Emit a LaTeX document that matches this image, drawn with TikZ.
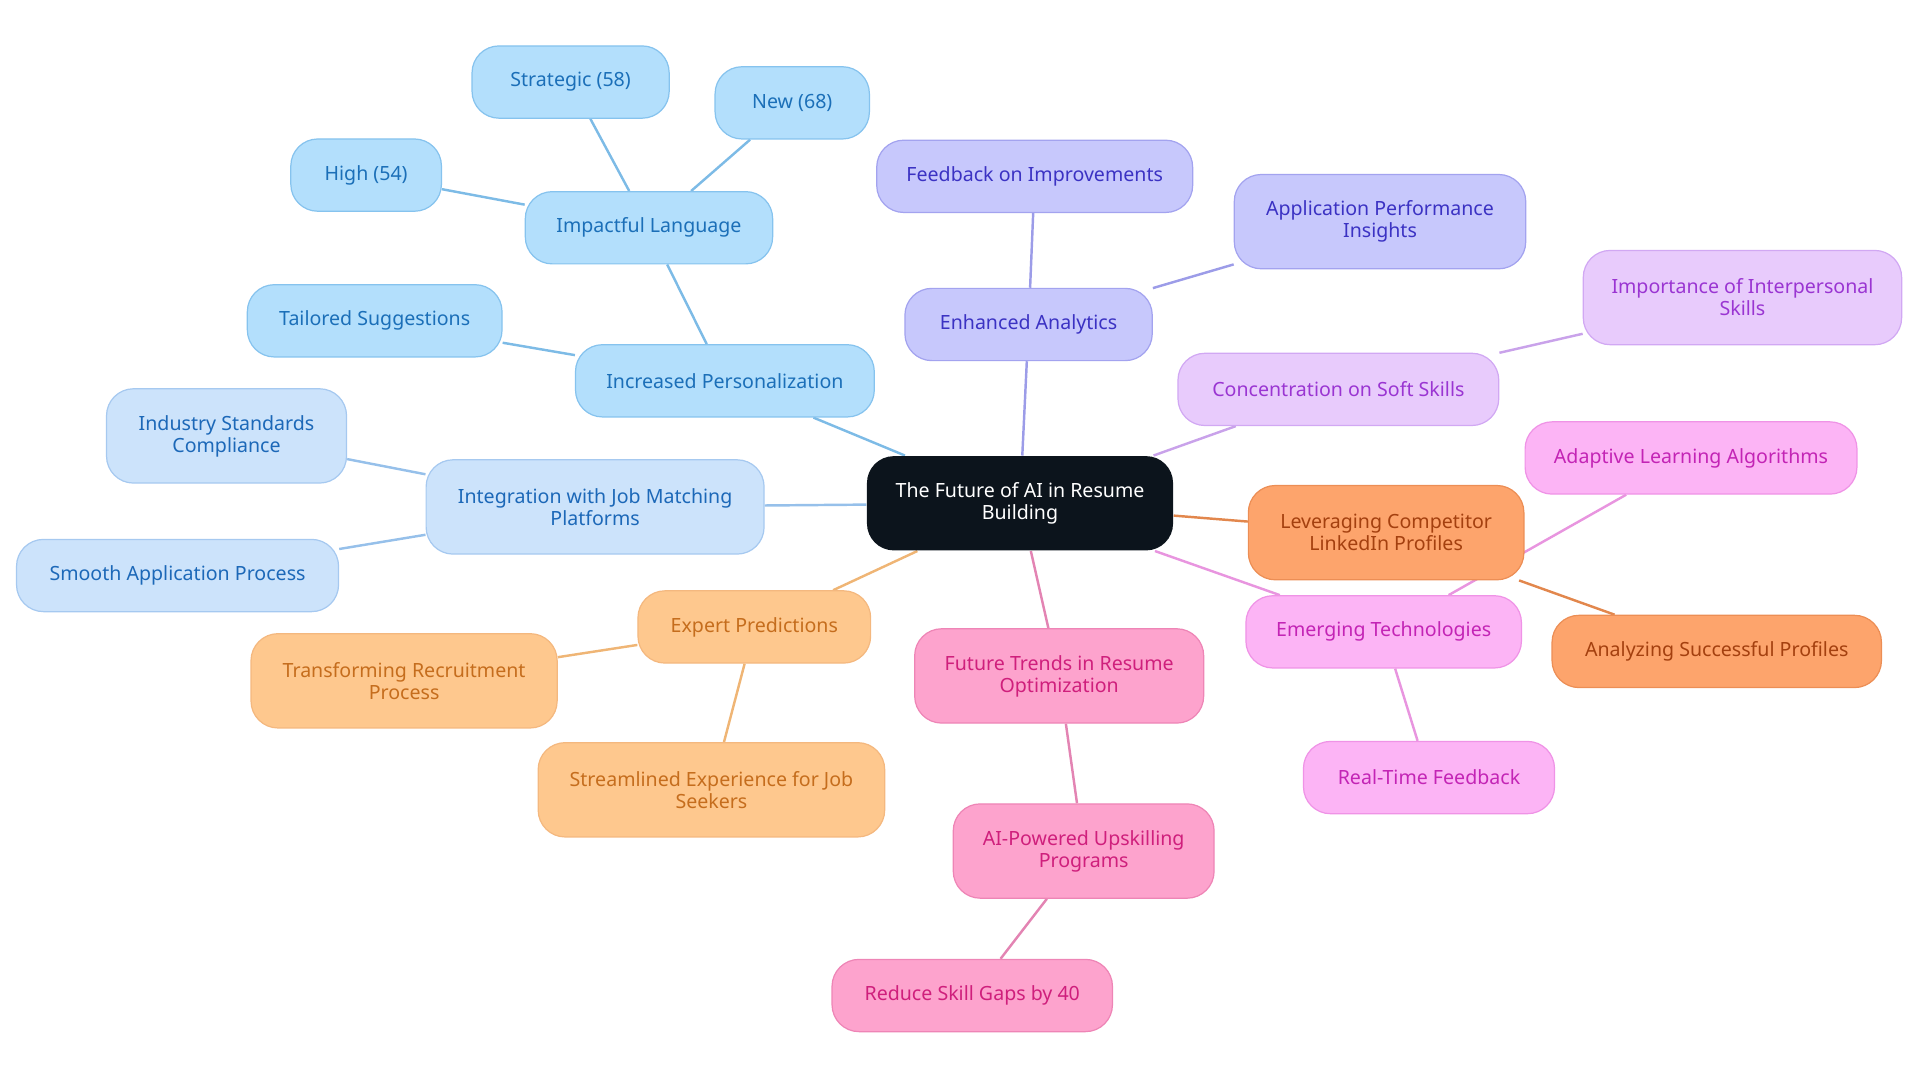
\documentclass[tikz,border=0pt]{standalone}
\usepackage{fontspec}
\setmainfont{Noto Sans}
\usetikzlibrary{positioning}
\definecolor{blueF}{HTML}{B3DFFC}\definecolor{blueD}{HTML}{86C3EE}\definecolor{blueT}{HTML}{1B6FB8}\definecolor{blueL}{HTML}{7DBBE6}
\definecolor{skyF}{HTML}{CCE3FB}\definecolor{skyD}{HTML}{A6C9F0}\definecolor{skyT}{HTML}{1C68B8}\definecolor{skyL}{HTML}{96C0EA}
\definecolor{indF}{HTML}{C7C8FC}\definecolor{indD}{HTML}{A3A3EF}\definecolor{indT}{HTML}{3B32C3}\definecolor{indL}{HTML}{9C9CE8}
\definecolor{lavF}{HTML}{E8CBFC}\definecolor{lavD}{HTML}{D1A8F3}\definecolor{lavT}{HTML}{9A35D2}\definecolor{lavL}{HTML}{C9A2EA}
\definecolor{magF}{HTML}{FCB4F5}\definecolor{magD}{HTML}{EF93E6}\definecolor{magT}{HTML}{C324B5}\definecolor{magL}{HTML}{E895DF}
\definecolor{oraF}{HTML}{FDA46C}\definecolor{oraD}{HTML}{EC8E55}\definecolor{oraT}{HTML}{A4400F}\definecolor{oraL}{HTML}{E2874D}
\definecolor{apeF}{HTML}{FEC88E}\definecolor{apeD}{HTML}{F4B87F}\definecolor{apeT}{HTML}{C56D1D}\definecolor{apeL}{HTML}{EFB575}
\definecolor{pinF}{HTML}{FDA3CD}\definecolor{pinD}{HTML}{EE85B6}\definecolor{pinT}{HTML}{CF1F7C}\definecolor{pinL}{HTML}{E384B3}
\definecolor{rootF}{HTML}{0C141C}
\pgfdeclarelayer{bg}
\pgfsetlayers{bg,main}
\tikzset{mind/.style={rectangle, rounded corners=22pt, line width=1pt, align=center, inner sep=0pt, minimum height=59pt, font=\fontsize{16}{18}\selectfont}}
\tikzset{two/.style={minimum height=77pt}}
\tikzset{bluebox/.style={mind, fill=blueF, draw=blueD, text=blueT}}
\tikzset{skybox/.style={mind, fill=skyF, draw=skyD, text=skyT}}
\tikzset{indbox/.style={mind, fill=indF, draw=indD, text=indT}}
\tikzset{lavbox/.style={mind, fill=lavF, draw=lavD, text=lavT}}
\tikzset{magbox/.style={mind, fill=magF, draw=magD, text=magT}}
\tikzset{orabox/.style={mind, fill=oraF, draw=oraD, text=oraT}}
\tikzset{apebox/.style={mind, fill=apeF, draw=apeD, text=apeT}}
\tikzset{pinbox/.style={mind, fill=pinF, draw=pinD, text=pinT}}
\tikzset{link/.style={line width=2pt}}

\begin{document}
\begin{tikzpicture}[x=1pt, y=-1pt]
	\useasboundingbox (0,0) rectangle (1568,884.5);

	% Root
	\node[mind, two, fill=rootF, text=white, minimum width=250pt] (root) at (833,411) {The Future of AI in Resume\\Building};

	% Personalization Branch
	\node[bluebox, minimum width=244pt] (pers) at (592,311) {Increased Personalization};
	\node[bluebox, minimum width=208pt] (tail) at (306,262) {Tailored Suggestions};
	\node[bluebox, minimum width=202pt] (lang) at (530,186) {Impactful Language};
	\node[bluebox, minimum width=161pt] (strat) at (466,67) {Strategic (58)};
	\node[bluebox, minimum width=126pt] (new) at (647,84) {New (68)};
	\node[bluebox, minimum width=123pt] (high) at (299,143) {High (54)};

	% Integration Branch
	\node[skybox, two, minimum width=276pt] (integ) at (486,414) {Integration with Job Matching\\Platforms};
	\node[skybox, two, minimum width=196pt] (indus) at (185,356) {Industry Standards\\Compliance};
	\node[skybox, minimum width=263pt] (smooth) at (145,470) {Smooth Application Process};

	% Analytics Branch
	\node[indbox, minimum width=202pt] (analy) at (840,265) {Enhanced Analytics};
	\node[indbox, minimum width=258pt] (feed) at (845,144) {Feedback on Improvements};
	\node[indbox, two, minimum width=238pt] (perf) at (1127,181) {Application Performance\\Insights};

	% Soft Skills Branch
	\node[lavbox, minimum width=262pt] (soft) at (1093,318) {Concentration on Soft Skills};
	\node[lavbox, two, minimum width=260pt] (inter) at (1423,243) {Importance of Interpersonal\\Skills};

	% Technologies Branch
	\node[magbox, minimum width=225pt] (emerg) at (1130,516) {Emerging Technologies};
	\node[magbox, minimum width=271pt] (adapt) at (1381,374) {Adaptive Learning Algorithms};
	\node[magbox, minimum width=205pt] (rtfb) at (1167,635) {Real-Time Feedback};

	% Competitor Branch
	\node[orabox, two, minimum width=225pt] (lever) at (1132,435) {Leveraging Competitor\\LinkedIn Profiles};
	\node[orabox, minimum width=269pt] (succ) at (1402,532) {Analyzing Successful Profiles};

	% Predictions Branch
	\node[apebox, minimum width=190pt] (expert) at (616,512) {Expert Predictions};
	\node[apebox, two, minimum width=250pt] (transf) at (330,556) {Transforming Recruitment\\Process};
	\node[apebox, two, minimum width=283pt] (stream) at (581,645) {Streamlined Experience for Job\\Seekers};

	% Trends Branch
	\node[pinbox, two, minimum width=236pt] (trends) at (865,552) {Future Trends in Resume\\Optimization};
	\node[pinbox, two, minimum width=213pt] (upsk) at (885,695) {AI-Powered Upskilling\\Programs};
	\node[pinbox, minimum width=229pt] (gaps) at (794,813) {Reduce Skill Gaps by 40};

	% Connectors
	\begin{pgfonlayer}{bg}
		\foreach \a/\b in {root/pers, pers/tail, pers/lang, lang/strat, lang/new, lang/high}
			\draw[link, blueL] (\a) -- (\b);
		\foreach \a/\b in {root/integ, integ/indus, integ/smooth}
			\draw[link, skyL] (\a) -- (\b);
		\foreach \a/\b in {root/analy, analy/feed, analy/perf}
			\draw[link, indL] (\a) -- (\b);
		\foreach \a/\b in {root/soft, soft/inter}
			\draw[link, lavL] (\a) -- (\b);
		\foreach \a/\b in {root/emerg, emerg/adapt, emerg/rtfb}
			\draw[link, magL] (\a) -- (\b);
		\foreach \a/\b in {root/lever, lever/succ}
			\draw[link, oraL] (\a) -- (\b);
		\foreach \a/\b in {root/expert, expert/transf, expert/stream}
			\draw[link, apeL] (\a) -- (\b);
		\foreach \a/\b in {root/trends, trends/upsk, upsk/gaps}
			\draw[link, pinL] (\a) -- (\b);
	\end{pgfonlayer}
\end{tikzpicture}
\end{document}
